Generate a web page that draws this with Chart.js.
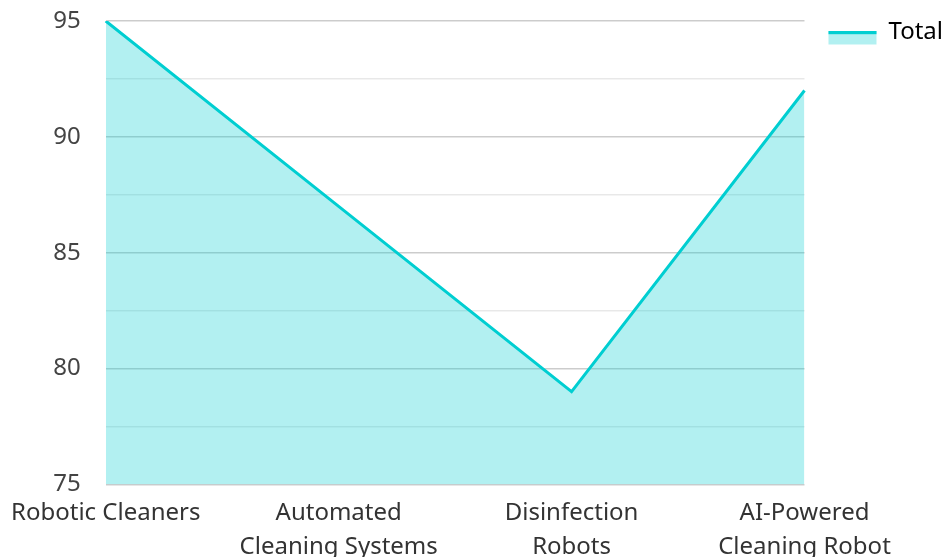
<!DOCTYPE html>
<html>
<head>
<meta charset="utf-8">
<script src="https://cdn.jsdelivr.net/npm/chart.js@4"></script>
<style>
    html, body { margin: 0; padding: 0; background: #fff; overflow: hidden; }
    #wrap { width: 944px; height: 576px; position: relative; }
</style>
</head>
<body>
<div id="wrap"><canvas id="chart"></canvas></div>
<script>
// chart data
const categories = [
    ["Robotic Cleaners"],
    ["Automated", "Cleaning Systems"],
    ["Disinfection", "Robots"],
    ["AI-Powered", "Cleaning Robot"]
];
const totalValues = [95, 87, 79, 92];
const yTicks = [75, 80, 85, 90, 95];

const LINE = "#00CED1";
const FILL = "rgba(0, 206, 209, 0.3)";
const FONT = "'Noto Sans', sans-serif";

// legend swatch: light fill with a thick line along its top edge
const legendSwatch = {
    id: 'legendSwatch',
    afterDraw(chart) {
        const legend = chart.legend;
        if (!legend || !legend.legendHitBoxes) return;
        const ctx = chart.ctx;
        legend.legendHitBoxes.forEach(box => {
            const mid = box.top + box.height / 2;
            ctx.save();
            ctx.fillStyle = FILL;
            ctx.fillRect(box.left, mid - 1, 48, 13.5);
            ctx.fillStyle = LINE;
            ctx.fillRect(box.left, mid - 1, 48, 3.2);
            ctx.restore();
        });
    }
};

const ctx = document.getElementById('chart').getContext('2d');
new Chart(ctx, {
    type: 'line',
    data: {
        labels: categories,
        datasets: [{
            label: 'Total',
            data: totalValues,
            borderColor: LINE,
            backgroundColor: FILL,
            borderWidth: 3,
            fill: 'origin',
            tension: 0,
            pointRadius: 0,
            pointHoverRadius: 0
        }]
    },
    options: {
        responsive: true,
        maintainAspectRatio: false,
        animation: false,
        layout: {
            padding: { top: 0, right: -9, left: 0, bottom: 0 }
        },
        scales: {
            x: {
                offset: false,
                grid: { display: false, drawTicks: false },
                border: { display: false },
                ticks: {
                    color: '#333',
                    padding: 11,
                    maxRotation: 0,
                    autoSkip: false,
                    font: { family: FONT, size: 24, lineHeight: 1.45 }
                }
            },
            y: {
                min: yTicks[0],
                max: yTicks[yTicks.length - 1],
                border: { display: false },
                grid: {
                    drawTicks: true,
                    tickLength: 22,
                    tickColor: 'rgba(0,0,0,0)',
                    lineWidth: 1.5,
                    color: c => (c.tick && yTicks.includes(c.tick.value)) ? 'rgba(0,0,0,0.2)' : 'rgba(0,0,0,0.09)'
                },
                ticks: {
                    stepSize: 2.5,
                    padding: 3,
                    color: '#444',
                    font: { family: FONT, size: 24, lineHeight: 1.5 },
                    callback: v => yTicks.includes(v) ? String(v) : ''
                }
            },
            // empty spacer between plot and legend
            spacer: {
                type: 'linear',
                position: 'right',
                display: true,
                grid: { display: false, drawTicks: false },
                border: { display: false },
                ticks: { display: false },
                afterFit: s => { s.width = 4; }
            }
        },
        plugins: {
            legend: {
                position: 'right',
                align: 'start',
                labels: {
                    boxWidth: 48,
                    boxHeight: 14,
                    color: '#333',
                    padding: 20,
                    font: { family: FONT, size: 24 },
                    generateLabels: chart => chart.data.datasets.map((ds, i) => ({
                        text: ds.label,
                        fillStyle: 'rgba(0,0,0,0)',
                        strokeStyle: 'rgba(0,0,0,0)',
                        lineWidth: 0,
                        hidden: false,
                        datasetIndex: i
                    }))
                }
            },
            tooltip: { enabled: false }
        }
    },
    plugins: [legendSwatch]
});
</script>
</body>
</html>
